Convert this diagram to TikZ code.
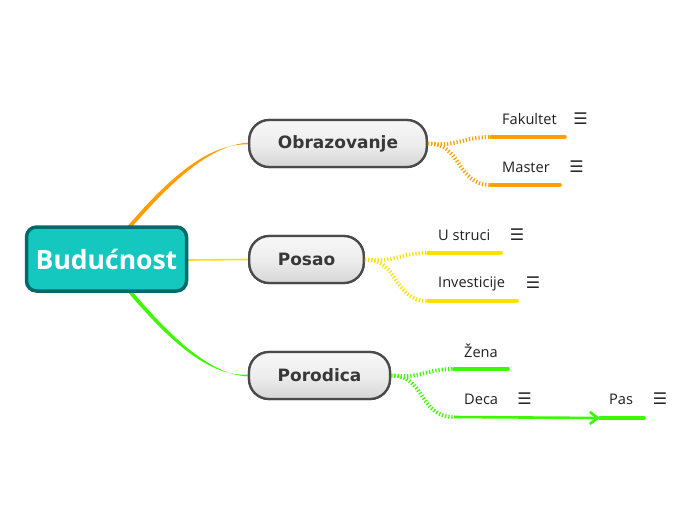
\documentclass[tikz,border=0pt]{standalone}
\usepackage{fontspec}
\setmainfont{Open Sans}
\newfontfamily\symfont{DejaVu Sans}
\newfontfamily\boldfam{DejaVu Sans}
\usetikzlibrary{arrows.meta}
\definecolor{orangec}{HTML}{FF9E00}
\definecolor{yellowc}{HTML}{FFE000}
\definecolor{greenc}{HTML}{3CF800}
\definecolor{teal1}{HTML}{14C8C0}
\definecolor{teal2}{HTML}{006A6A}
\definecolor{graybd}{HTML}{4A4A4A}
\newcommand{\lowtext}[1]{\raisebox{-2.3pt}{#1}}
\tikzset{
 rootbox/.style={draw=teal2,line width=3.5pt,fill=teal1,rounded corners=10pt,minimum width=160pt,minimum height=64pt,inner sep=0pt,text=white,font=\bfseries\fontsize{26.5}{30}\selectfont},
 mainbox/.style={draw=graybd,line width=2.3pt,rounded corners=20pt,minimum height=47pt,inner sep=0pt,top color=white!97!black,bottom color=white!84!black,middle color=white!93!black,text=black!78,font=\boldfam\bfseries\fontsize{17}{20}\selectfont},
 leaf/.style={anchor=west,inner sep=0pt,text=black!88,font=\fontsize{14.6}{17}\selectfont},
 menu/.style={anchor=center,inner sep=0pt,text=black!85,font=\symfont\fontsize{16}{17}\selectfont},
 thick link/.style={line width=3.6pt,line cap=round},
 dot link/.style={line width=4pt,dash pattern=on 1.2pt off 2pt},
}
\begin{document}
\begin{tikzpicture}[x=1pt,y=-1pt]
\useasboundingbox (0,0) rectangle (696,520);
\coordinate (rootT) at (126,228);
\coordinate (rootB) at (126,290);
\coordinate (rootT2) at (131,228);
\coordinate (rootB2) at (131,290);
\node[mainbox,minimum width=177.5pt] (obr) at (338,143.5) {};
\node[mainbox,minimum width=114.5pt] (pos) at (306.5,259.5) {};
\node[mainbox,minimum width=141pt] (por) at (319.5,375.5) {};
\fill[orangec] (rootT) .. controls (163,185) and (205,143) .. ([yshift=-0.9pt]obr.west) -- ([yshift=0.9pt]obr.west) .. controls (207,145.5) and (166,188) .. (rootT2) -- cycle;
\draw[yellowc,line width=1.6pt] (187,260) -- (pos.west);
\fill[greenc] (rootB) .. controls (163,333) and (205,377) .. ([yshift=0.9pt]por.west) -- ([yshift=-0.9pt]por.west) .. controls (207,374.5) and (166,331) .. (rootB2) -- cycle;
\node[mainbox,minimum width=177.5pt] at (obr) {\lowtext{Obrazovanje}};
\node[mainbox,minimum width=114.5pt] at (pos) {\lowtext{Posao}};
\node[mainbox,minimum width=141pt] at (por) {\lowtext{Porodica}};
\node[rootbox] (root) at (106.5,259) {Budućnost};
% leaves
\node[leaf] (fak) at (502,119) {Fakultet};
\node[menu] (m1) at (580.5,119) {☰};
\node[leaf] (mas) at (502,167) {Master};
\node[menu] (m2) at (576.5,167) {☰};
\node[leaf] (str) at (438,235) {U struci};
\node[menu] (m3) at (517,235) {☰};
\node[leaf] (inv) at (438,283.5) {Investicije};
\node[menu] (m4) at (533,283) {☰};
\node[leaf] (zen) at (464,351) {Žena};
\node[leaf] (dec) at (464,399) {Deca};
\node[menu] (m5) at (524.5,399) {☰};
\node[leaf] (pas) at (609,399) {Pas};
\node[menu] (m6) at (660,399) {☰};
% underlines
\coordinate (a1) at (491,137); \coordinate (a2) at (565,137);
\coordinate (b1) at (491,185); \coordinate (b2) at (560,185);
\coordinate (c1) at (428,253); \coordinate (c2) at (501,253);
\coordinate (d1) at (428,301); \coordinate (d2) at (517,301);
\coordinate (e1) at (454,369); \coordinate (e2) at (508,369);
\coordinate (f1) at (454,417); \coordinate (f2) at (600,418);
\coordinate (g1) at (600,418); \coordinate (g2) at (644,418);
\draw[orangec,thick link] (a1) -- (a2);
\draw[orangec,thick link] (b1) -- (b2);
\draw[yellowc,thick link] (c1) -- (c2);
\draw[yellowc,thick link] (d1) -- (d2);
\draw[greenc,thick link] (e1) -- (e2);
\draw[greenc,thick link] (g1) -- (g2);
\draw[greenc,line width=2.6pt,-{Straight Barb[length=8pt,width=12pt]}] (f1) -- (f2);
% dotted links
\draw[orangec,dot link] (obr.east) .. controls (458,147) and (462,137) .. (a1);
\draw[orangec,dot link] (obr.east) .. controls (462,143) and (456,185) .. (b1);
\draw[yellowc,dot link] (pos.east) .. controls (395,263) and (399,253) .. (c1);
\draw[yellowc,dot link] (pos.east) .. controls (399,259) and (393,301) .. (d1);
\draw[greenc,dot link] (por.east) .. controls (421,379) and (425,369) .. (e1);
\draw[greenc,dot link] (por.east) .. controls (425,375) and (419,417) .. (f1);
\end{tikzpicture}
\end{document}
